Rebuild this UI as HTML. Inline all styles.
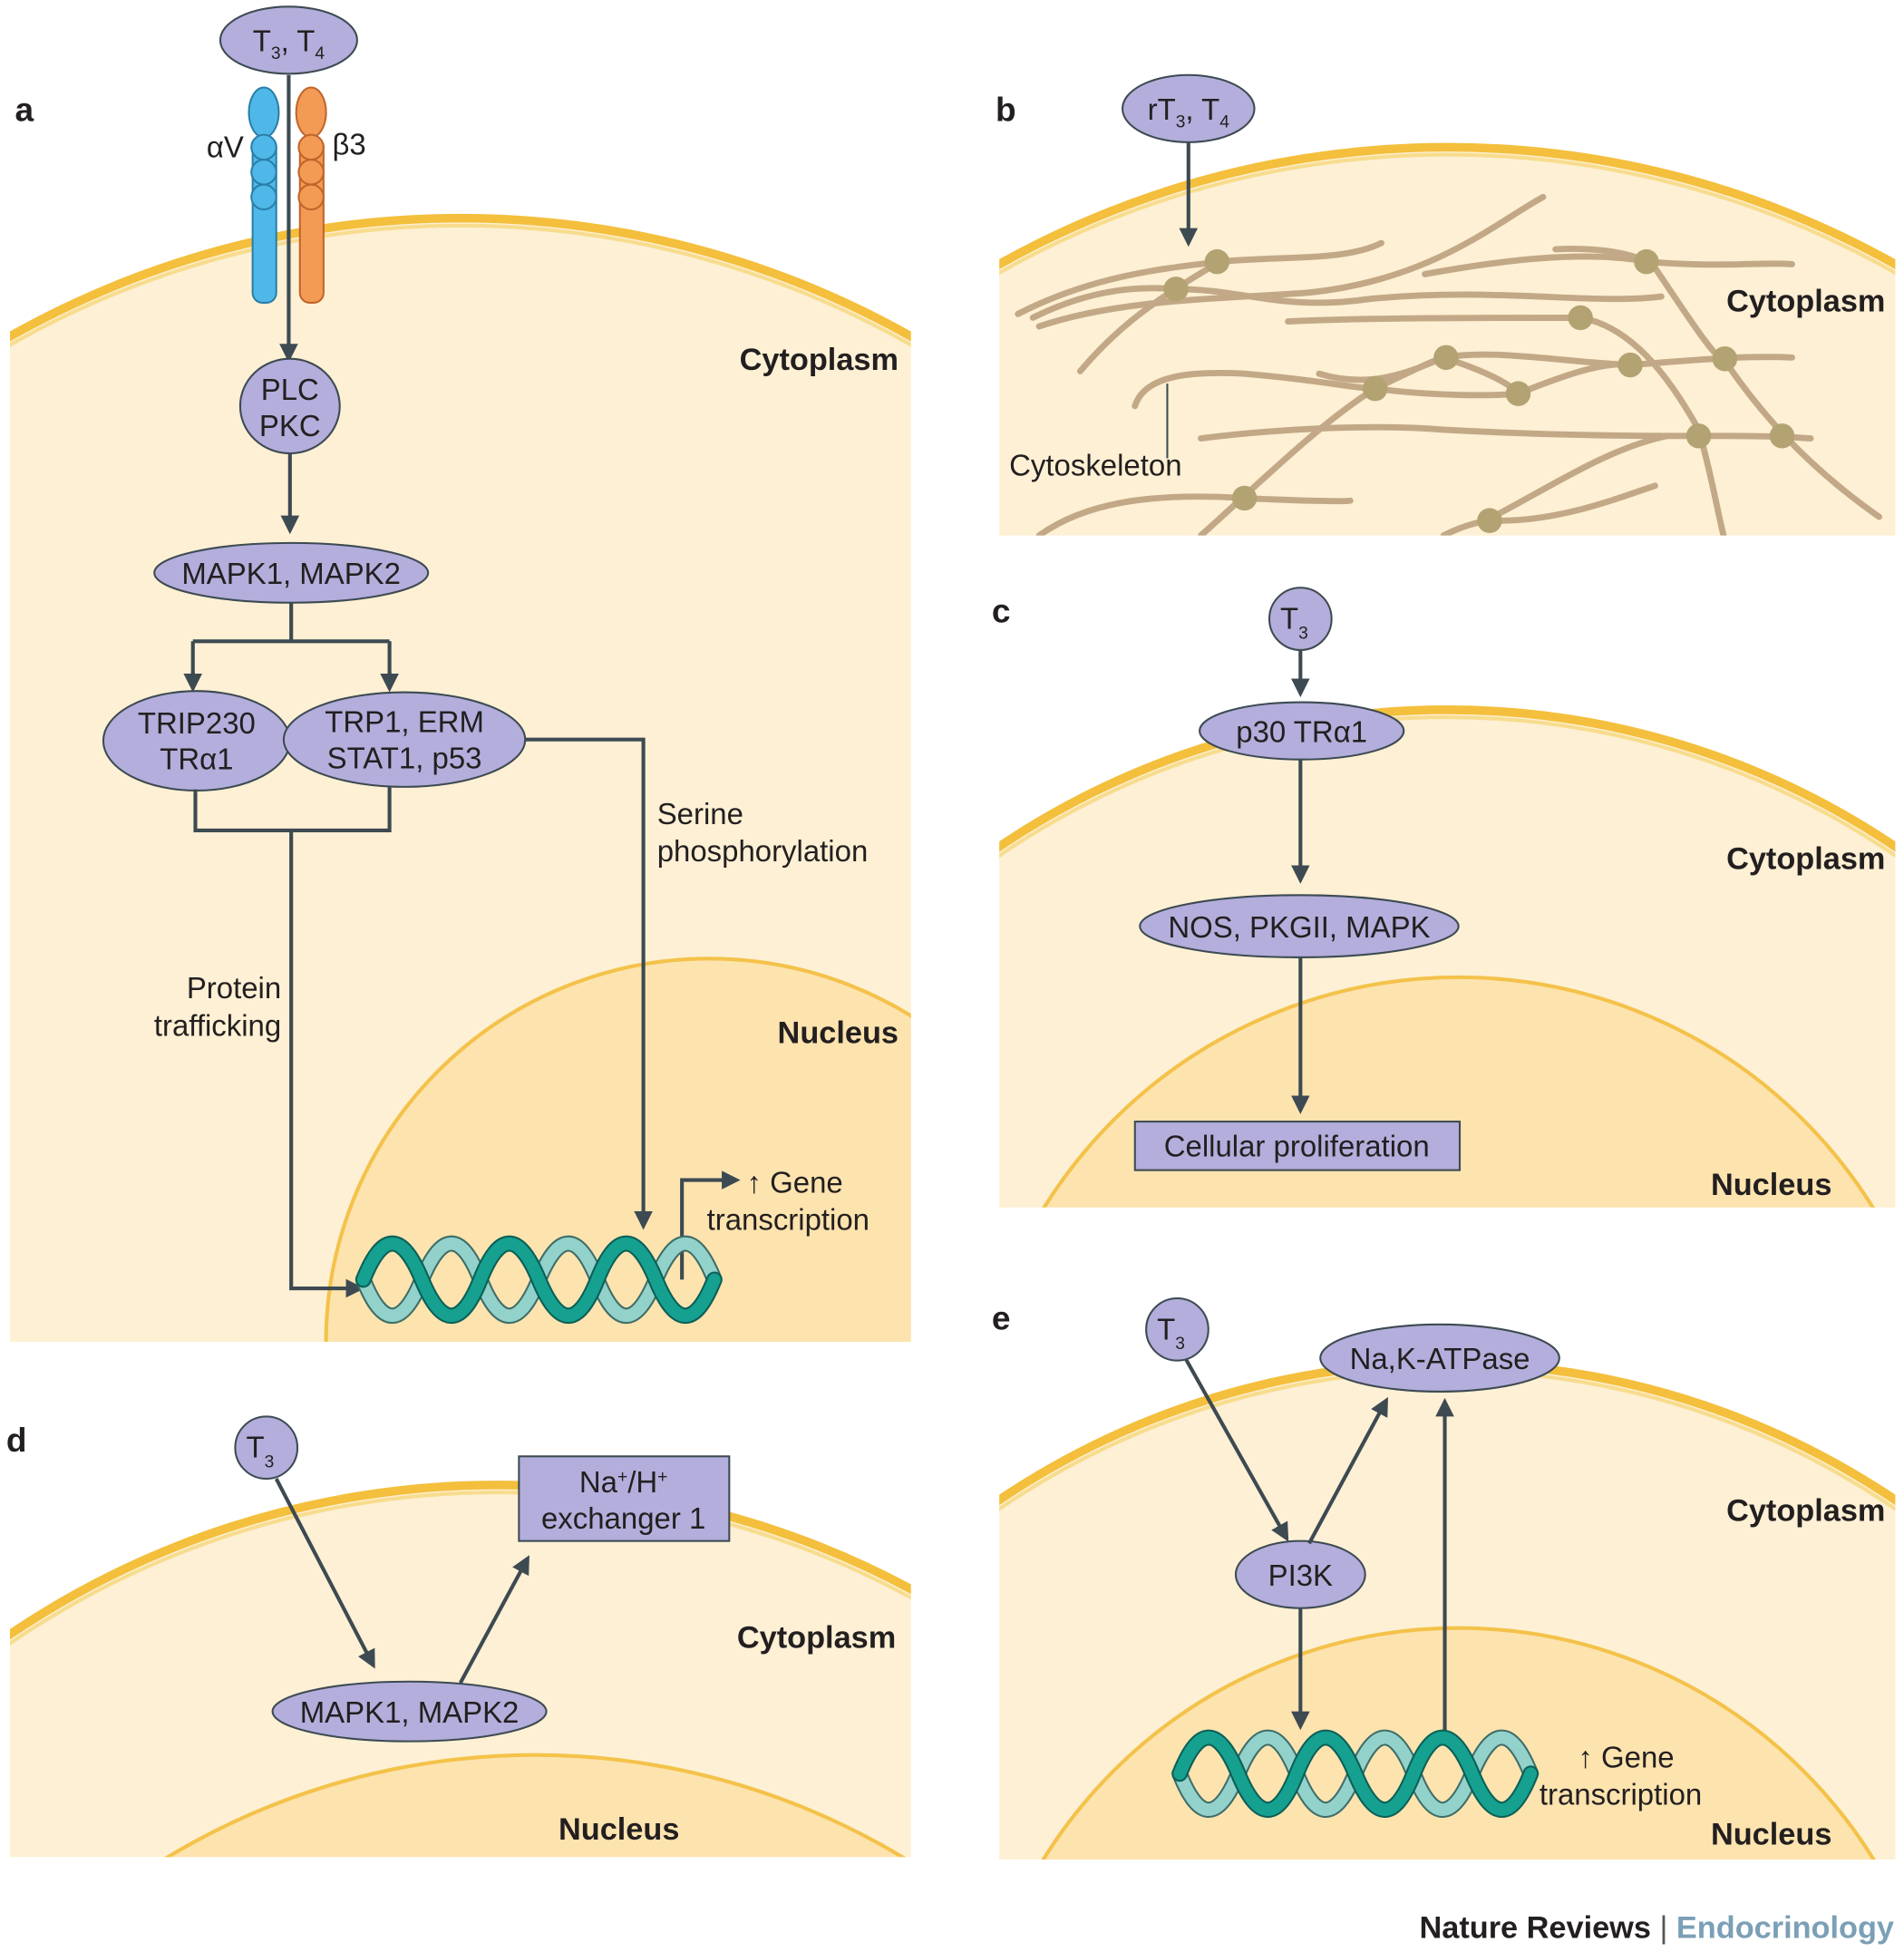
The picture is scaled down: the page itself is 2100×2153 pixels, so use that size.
<!DOCTYPE html>
<html><head><meta charset="utf-8"><style>
html,body{margin:0;padding:0;background:#fff;width:2100px;height:2153px;overflow:hidden}
svg{display:block}
text{font-family:"Liberation Sans",sans-serif;fill:#231f20}
.t{font-size:24px}
.b{font-weight:bold;font-size:25px}
.L{font-weight:bold;font-size:27px}
.n{fill:#b3aedb;stroke:#3d4a52;stroke-width:1.5}
.ar{fill:none;stroke:#3d4a52;stroke-width:3}
.fil{fill:none;stroke:#c2a886;stroke-width:5;stroke-linecap:round}
.kn{fill:#b3a272}
</style></head><body>
<svg width="2100" height="2153" viewBox="0 0 1530 1568" xmlns="http://www.w3.org/2000/svg">
<defs>
<marker id="m" viewBox="0 0 10 10" refX="8" refY="5" markerWidth="5" markerHeight="5" orient="auto"><path d="M0,0L10,5L0,10z" fill="#3d4a52"/></marker>
<clipPath id="ca"><rect x="8" y="0" width="724" height="1078"/></clipPath>
<clipPath id="cb"><rect x="803" y="0" width="720" height="430"/></clipPath>
<clipPath id="cc"><rect x="803" y="450" width="720" height="520"/></clipPath>
<clipPath id="cd"><rect x="8" y="1100" width="724" height="392"/></clipPath>
<clipPath id="ce"><rect x="803" y="1040" width="720" height="454"/></clipPath>
</defs>
<g clip-path="url(#ca)">
<circle cx="370" cy="912" r="737" fill="#fdf0d4" stroke="#f4bf3c" stroke-width="7"/>
<circle cx="370" cy="912" r="731" fill="none" stroke="#f8dc8e" stroke-width="3"/>
<circle cx="570" cy="1078" r="308" fill="#fde3ae" stroke="#f4c24a" stroke-width="3"/>
</g>
<g clip-path="url(#cb)">
<circle cx="1163" cy="854" r="736" fill="#fdf0d4" stroke="#f4bf3c" stroke-width="7"/>
<circle cx="1163" cy="854" r="730" fill="none" stroke="#f8dc8e" stroke-width="3"/>
</g>
<g clip-path="url(#cc)">
<circle cx="1163" cy="1214" r="644" fill="#fdf0d4" stroke="#f4bf3c" stroke-width="7"/>
<circle cx="1163" cy="1214" r="638" fill="none" stroke="#f8dc8e" stroke-width="3"/>
<circle cx="1172" cy="1177" r="392" fill="#fde3ae" stroke="#f4c24a" stroke-width="3"/>
</g>
<g clip-path="url(#cd)">
<circle cx="400" cy="1893" r="700" fill="#fdf0d4" stroke="#f4bf3c" stroke-width="7"/>
<circle cx="400" cy="1893" r="694" fill="none" stroke="#f8dc8e" stroke-width="3"/>
<circle cx="430" cy="1982" r="572" fill="#fde3ae" stroke="#f4c24a" stroke-width="3"/>
</g>
<g clip-path="url(#ce)">
<circle cx="1163" cy="1739" r="644" fill="#fdf0d4" stroke="#f4bf3c" stroke-width="7"/>
<circle cx="1163" cy="1739" r="638" fill="none" stroke="#f8dc8e" stroke-width="3"/>
<circle cx="1172" cy="1700" r="392" fill="#fde3ae" stroke="#f4c24a" stroke-width="3"/>
</g>

<text x="12" y="97" class="L">a</text>
<text x="800" y="97" class="L">b</text>
<text x="797" y="500" class="L">c</text>
<text x="5" y="1166" class="L">d</text>
<text x="797" y="1068" class="L">e</text>

<rect x="203" y="110" width="19" height="133" rx="8" fill="#4fb8e8" stroke="#2a7fa8" stroke-width="1.5"/>
<g fill="#4fb8e8" stroke="#2a7fa8" stroke-width="1.5">
<ellipse cx="212" cy="90" rx="12" ry="20"/><circle cx="212" cy="118" r="10"/><circle cx="212" cy="138" r="10"/><circle cx="212" cy="158" r="10"/></g>
<rect x="241" y="110" width="19" height="133" rx="8" fill="#f39a55" stroke="#c0652a" stroke-width="1.5"/>
<g fill="#f39a55" stroke="#c0652a" stroke-width="1.5">
<ellipse cx="250" cy="90" rx="12" ry="20"/><circle cx="250" cy="118" r="10"/><circle cx="250" cy="138" r="10"/><circle cx="250" cy="158" r="10"/></g>
<text x="166" y="126" class="t">αV</text>
<text x="267" y="124" class="t">β3</text>
<ellipse class="n" cx="232" cy="32" rx="55" ry="27"/>
<text x="232" y="41" class="t" text-anchor="middle">T<tspan font-size="14" dy="6">3</tspan><tspan dy="-6">, T</tspan><tspan font-size="14" dy="6">4</tspan></text>
<path class="ar" d="M232,60V288" marker-end="url(#m)"/>
<ellipse class="n" cx="233" cy="326" rx="40" ry="38"/>
<text x="233" y="321" class="t" text-anchor="middle">PLC</text>
<text x="233" y="350" class="t" text-anchor="middle">PKC</text>
<path class="ar" d="M233,364V426" marker-end="url(#m)"/>
<ellipse class="n" cx="234" cy="460" rx="110" ry="24"/>
<text x="234" y="469" class="t" text-anchor="middle">MAPK1, MAPK2</text>
<path class="ar" d="M234,484V515M155,515H313M155,515V553M313,515V553" />
<path class="ar" d="M155,540V553" marker-end="url(#m)"/><path class="ar" d="M313,540V553" marker-end="url(#m)"/>
<ellipse class="n" cx="158" cy="595" rx="75" ry="40"/>
<text x="158" y="589" class="t" text-anchor="middle">TRIP230</text>
<text x="158" y="618" class="t" text-anchor="middle">TRα1</text>
<ellipse class="n" cx="325" cy="594" rx="97" ry="38"/>
<text x="325" y="588" class="t" text-anchor="middle">TRP1, ERM</text>
<text x="325" y="617" class="t" text-anchor="middle">STAT1, p53</text>
<path class="ar" d="M157,634V667H313V632M234,667V1035H290" marker-end="url(#m)"/>
<path class="ar" d="M422,594H517V985" marker-end="url(#m)"/>
<path class="ar" d="M548,1028V948H592" marker-end="url(#m)"/>
<text x="528" y="662" class="t">Serine</text>
<text x="528" y="692" class="t">phosphorylation</text>
<text x="226" y="802" class="t" text-anchor="end">Protein</text>
<text x="226" y="832" class="t" text-anchor="end">trafficking</text>
<text x="600" y="958" class="t">↑ Gene</text>
<text x="568" y="988" class="t">transcription</text>
<text x="722" y="297" class="b" text-anchor="end">Cytoplasm</text>
<text x="722" y="838" class="b" text-anchor="end">Nucleus</text>
<g fill="none" stroke-linecap="round">
<path d="M292,1028 Q315,1086 339,1028 T386,1028 T433,1028 T480,1028 T527,1028 T574,1028" stroke="#3d6d68" stroke-width="13"/>
<path d="M292,1028 Q315,1086 339,1028 T386,1028 T433,1028 T480,1028 T527,1028 T574,1028" stroke="#93d2cb" stroke-width="10"/>
<path d="M292,1028 Q315,970 339,1028 T386,1028 T433,1028 T480,1028 T527,1028 T574,1028" stroke="#0b5f57" stroke-width="13"/>
<path d="M292,1028 Q315,970 339,1028 T386,1028 T433,1028 T480,1028 T527,1028 T574,1028" stroke="#16a090" stroke-width="10"/>
</g>

<g clip-path="url(#cb)">
<path class="fil" d="M818,252 C880,220 940,215 980,210 C1030,205 1080,210 1110,195"/>
<path class="fil" d="M835,262 C900,240 980,240 1050,235 C1150,225 1200,180 1240,158"/>
<path class="fil" d="M868,298 C900,260 930,240 980,210"/>
<path class="fil" d="M830,255 C880,230 920,230 945,232 C1000,232 1030,250 1100,240 C1200,230 1280,245 1335,238"/>
<path class="fil" d="M1145,220 C1200,210 1270,200 1325,210 C1380,215 1420,210 1440,212"/>
<path class="fil" d="M1250,200 C1290,198 1320,205 1330,215 C1360,260 1380,290 1385,288 C1420,340 1460,380 1510,415"/>
<path class="fil" d="M1035,258 C1100,255 1200,255 1270,255 C1310,262 1340,300 1365,345 C1375,380 1380,410 1385,430"/>
<path class="fil" d="M912,326 C920,300 960,298 1000,300 C1060,305 1090,312 1105,312 C1150,318 1200,318 1220,316 C1260,300 1290,290 1310,293 C1350,290 1400,285 1440,287"/>
<path class="fil" d="M965,352 C1020,345 1100,340 1160,345 C1250,350 1320,350 1365,350 C1400,350 1430,350 1455,352"/>
<path class="fil" d="M1060,300 C1100,312 1130,300 1160,287 C1200,280 1250,290 1310,293"/>
<path class="fil" d="M1160,287 C1200,300 1215,310 1220,316"/>
<path class="fil" d="M835,430 C870,405 920,395 1000,400 C1040,402 1080,403 1085,402"/>
<path class="fil" d="M965,430 C1010,390 1060,340 1105,312 C1130,300 1150,290 1160,287"/>
<path class="fil" d="M1190,420 C1240,395 1290,360 1340,350"/>
<path class="fil" d="M1160,430 C1180,420 1195,418 1198,418 C1250,420 1300,400 1330,390"/>
</g>
<g class="kn"><circle cx="978" cy="210" r="10"/><circle cx="945" cy="232" r="10"/><circle cx="1323" cy="210" r="10"/><circle cx="1270" cy="255" r="10"/><circle cx="1162" cy="287" r="10"/><circle cx="1105" cy="312" r="10"/><circle cx="1220" cy="316" r="10"/><circle cx="1310" cy="293" r="10"/><circle cx="1386" cy="288" r="10"/><circle cx="1365" cy="350" r="10"/><circle cx="1432" cy="350" r="10"/><circle cx="1000" cy="400" r="10"/><circle cx="1197" cy="418" r="10"/></g>
<path d="M938,308V368" stroke="#3d4a52" stroke-width="1.5"/>
<text x="811" y="382" class="t">Cytoskeleton</text>
<text x="1515" y="250" class="b" text-anchor="end">Cytoplasm</text>
<ellipse class="n" cx="955" cy="87" rx="53" ry="27"/>
<text x="955" y="96" class="t" text-anchor="middle">rT<tspan font-size="14" dy="6">3</tspan><tspan dy="-6">, T</tspan><tspan font-size="14" dy="6">4</tspan></text>
<path class="ar" d="M955,114V195" marker-end="url(#m)"/>

<circle class="n" cx="1045" cy="497" r="25"/>
<text x="1040" y="505" class="t" text-anchor="middle">T<tspan font-size="14" dy="8">3</tspan></text>
<path class="ar" d="M1045,522V557" marker-end="url(#m)"/>
<ellipse class="n" cx="1046" cy="587" rx="82" ry="23"/>
<text x="1046" y="596" class="t" text-anchor="middle">p30 TRα1</text>
<path class="ar" d="M1045,610V707" marker-end="url(#m)"/>
<ellipse class="n" cx="1044" cy="744" rx="128" ry="25"/>
<text x="1044" y="753" class="t" text-anchor="middle">NOS, PKGII, MAPK</text>
<path class="ar" d="M1045,769V892" marker-end="url(#m)"/>
<rect x="912" y="901" width="261" height="39" fill="#b3aedb" stroke="#3d4a52" stroke-width="1.5"/>
<text x="1042" y="929" class="t" text-anchor="middle">Cellular proliferation</text>
<text x="1515" y="698" class="b" text-anchor="end">Cytoplasm</text>
<text x="1472" y="960" class="b" text-anchor="end">Nucleus</text>

<circle class="n" cx="214" cy="1163" r="25"/>
<text x="209" y="1171" class="t" text-anchor="middle">T<tspan font-size="14" dy="8">3</tspan></text>
<path class="ar" d="M222,1188L300,1338" marker-end="url(#m)"/>
<ellipse class="n" cx="329" cy="1375" rx="110" ry="24"/>
<text x="329" y="1384" class="t" text-anchor="middle">MAPK1, MAPK2</text>
<path class="ar" d="M370,1352L424,1252" marker-end="url(#m)"/>
<rect x="417" y="1170" width="169" height="68" fill="#b3aedb" stroke="#3d4a52" stroke-width="1.5"/>
<text x="501" y="1199" class="t" text-anchor="middle">Na<tspan font-size="14" dy="-8">+</tspan><tspan dy="8">/H</tspan><tspan font-size="14" dy="-8">+</tspan></text>
<text x="501" y="1228" class="t" text-anchor="middle">exchanger 1</text>
<text x="720" y="1324" class="b" text-anchor="end">Cytoplasm</text>
<text x="546" y="1478" class="b" text-anchor="end">Nucleus</text>

<circle class="n" cx="946" cy="1068" r="25"/>
<text x="941" y="1076" class="t" text-anchor="middle">T<tspan font-size="14" dy="8">3</tspan></text>
<path class="ar" d="M953,1092L1034,1236" marker-end="url(#m)"/>
<ellipse class="n" cx="1157" cy="1091" rx="96" ry="27"/>
<text x="1157" y="1100" class="t" text-anchor="middle">Na,K-ATPase</text>
<ellipse class="n" cx="1045" cy="1265" rx="52" ry="27"/>
<text x="1045" y="1274" class="t" text-anchor="middle">PI3K</text>
<path class="ar" d="M1052,1240L1114,1125" marker-end="url(#m)"/>
<path class="ar" d="M1161,1390V1126" marker-end="url(#m)"/>
<path class="ar" d="M1045,1292V1387" marker-end="url(#m)"/>
<g fill="none" stroke-linecap="round">
<path d="M948,1425 Q971,1483 995,1425 T1042,1425 T1089,1425 T1136,1425 T1183,1425 T1230,1425" stroke="#3d6d68" stroke-width="13"/>
<path d="M948,1425 Q971,1483 995,1425 T1042,1425 T1089,1425 T1136,1425 T1183,1425 T1230,1425" stroke="#93d2cb" stroke-width="10"/>
<path d="M948,1425 Q971,1367 995,1425 T1042,1425 T1089,1425 T1136,1425 T1183,1425 T1230,1425" stroke="#0b5f57" stroke-width="13"/>
<path d="M948,1425 Q971,1367 995,1425 T1042,1425 T1089,1425 T1136,1425 T1183,1425 T1230,1425" stroke="#16a090" stroke-width="10"/>
</g>
<text x="1268" y="1420" class="t">↑ Gene</text>
<text x="1237" y="1450" class="t">transcription</text>
<text x="1515" y="1222" class="b" text-anchor="end">Cytoplasm</text>
<text x="1472" y="1482" class="b" text-anchor="end">Nucleus</text>

<text x="1522" y="1557" class="b" text-anchor="end">Nature Reviews <tspan font-weight="normal" fill="#555">|</tspan> <tspan fill="#7b9fb6">Endocrinology</tspan></text>
</svg>
</body></html>
